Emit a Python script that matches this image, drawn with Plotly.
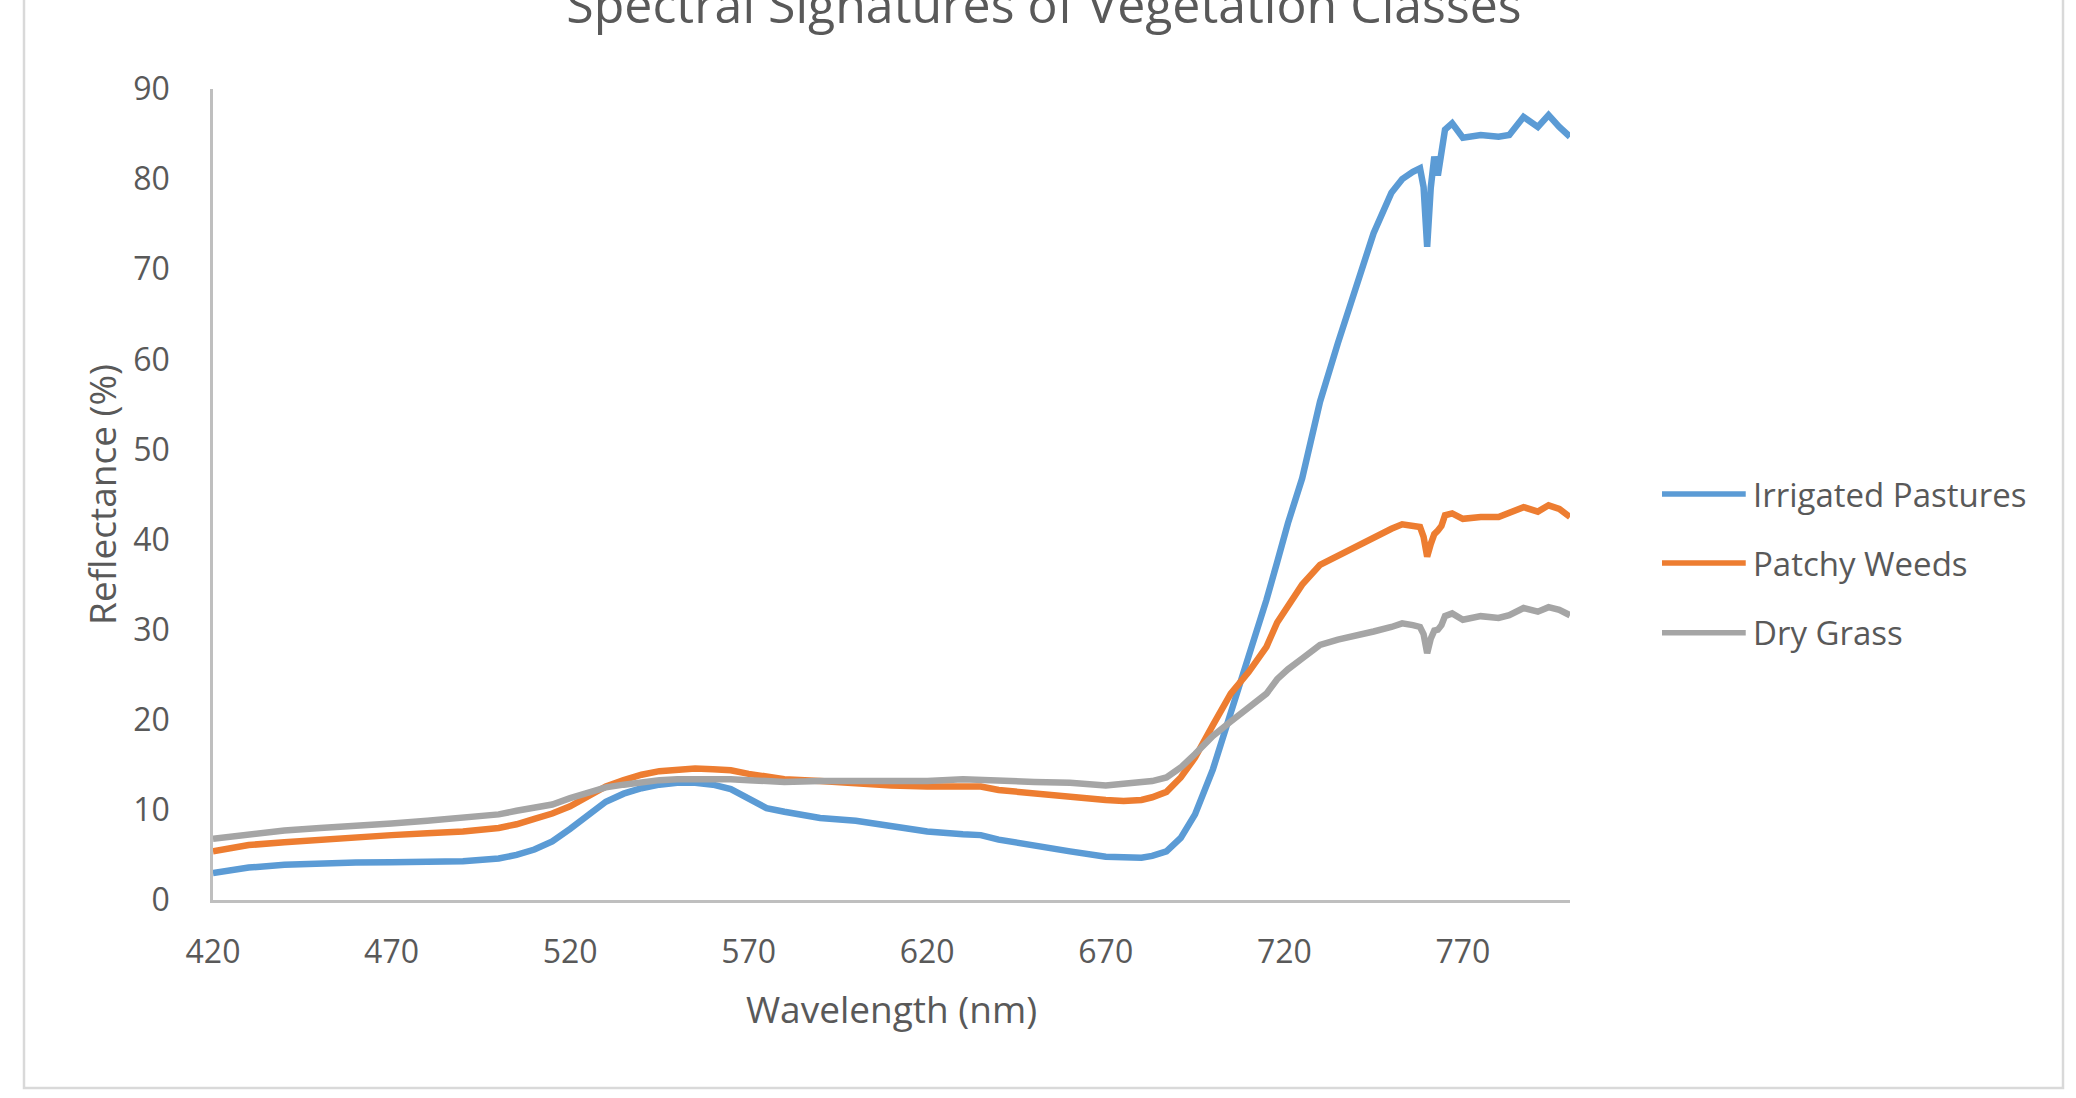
import plotly.graph_objects as go

# ---- data ----
wavelength = [420, 430, 440, 450, 460, 470, 480, 490, 500, 505, 510, 515, 520, 525, 530, 535,
              540, 545, 550, 555, 560, 565, 570, 575, 580, 590, 600, 610, 620, 630, 635, 640,
              650, 660, 670, 675, 680, 683, 687, 691, 695, 700, 705, 710, 715, 718, 721, 725,
              730, 735, 740, 745, 750, 753, 756, 758, 759, 760, 761, 762, 763, 764, 765, 767,
              770, 775, 780, 783, 787, 791, 794, 797, 800]

irrigated_pastures = [3.0, 3.6, 3.9, 4.1, 4.15, 4.2, 4.25, 4.3, 4.6, 5.0, 5.6, 6.5, 7.9, 9.5, 10.9, 11.8,
                      12.4, 12.8, 13.0, 13.0, 12.8, 12.3, 11.2, 10.2, 9.8, 9.1, 8.8, 8.2, 7.6, 7.3, 7.2, 6.7,
                      6.0, 5.4, 4.8, 4.7, 4.7, 4.9, 5.4, 6.9, 9.5, 14.5, 20.7, 27.0, 33.3, 37.5, 41.8, 46.8,
                      55.3, 61.8, 67.8, 74.0, 78.5, 80.0, 80.8, 81.2, 79.1, 72.5, 79.0, 82.5, 80.4, 83.5, 85.5, 86.2,
                      84.6, 84.9, 84.7, 84.9, 86.9, 85.8, 87.1, 85.8, 84.7]

patchy_weeds = [5.4, 6.1, 6.4, 6.7, 7.0, 7.2, 7.4, 7.6, 8.0, 8.4, 9.0, 9.6, 10.4, 11.4, 12.6, 13.3,
                13.9, 14.3, 14.5, 14.6, 14.5, 14.4, 14.0, 13.7, 13.4, 13.2, 12.9, 12.7, 12.6, 12.65, 12.6, 12.2,
                11.8, 11.4, 11.1, 11.0, 11.1, 11.4, 12.0, 13.6, 15.8, 19.4, 22.9, 25.3, 28.1, 30.8, 32.6, 35.0,
                37.2, 38.2, 39.2, 40.4, 41.2, 41.7, 41.5, 41.4, 40.3, 38.1, 39.5, 40.6, 41.0, 41.5, 42.7, 42.9,
                42.3, 42.5, 42.5, 42.9, 43.6, 43.1, 43.8, 43.4, 42.5]

dry_grass = [6.8, 7.3, 7.7, 8.0, 8.2, 8.5, 8.8, 9.1, 9.5, 9.9, 10.3, 10.6, 11.3, 11.9, 12.5, 12.8,
             13.1, 13.3, 13.4, 13.45, 13.5, 13.4, 13.3, 13.2, 13.1, 13.2, 13.2, 13.1, 13.2, 13.4, 13.3, 13.2,
             13.1, 13.0, 12.7, 12.9, 13.1, 13.2, 13.6, 14.7, 16.2, 18.2, 19.8, 21.3, 22.9, 24.5, 25.6, 26.8,
             28.3, 28.9, 29.3, 29.8, 30.3, 30.7, 30.5, 30.3, 29.5, 27.4, 29.0, 29.9, 30.0, 30.5, 31.5, 31.8,
             31.1, 31.5, 31.3, 31.6, 32.4, 32.0, 32.5, 32.2, 31.6]

series_names = ["Irrigated Pastures", "Patchy Weeds", "Dry Grass"]
series_values = [irrigated_pastures, patchy_weeds, dry_grass]
series_colors = ["#5B9BD5", "#ED7D31", "#A5A5A5"]

x_tick_values = [420, 470, 520, 570, 620, 670, 720, 770]
y_tick_values = [0, 10, 20, 30, 40, 50, 60, 70, 80, 90]

FONT = "Open Sans, Noto Sans, sans-serif"
TXT = "#595959"

fig = go.Figure()
for name, vals, col in zip(series_names, series_values, series_colors):
    fig.add_trace(go.Scatter(x=wavelength, y=vals, mode="lines", name=name,
                             line=dict(color=col, width=6.5), showlegend=False))

# manual legend (long line samples like the reference)
legend_y = [0.5005, 0.4155, 0.3295]
for name, col, ly in zip(series_names, series_colors, legend_y):
    fig.add_shape(type="line", xref="paper", yref="paper", x0=1.0678, x1=1.1295, y0=ly, y1=ly,
                  line=dict(color=col, width=5.5))
    fig.add_annotation(xref="paper", yref="paper", x=1.1335, y=ly, xanchor="left", yanchor="middle",
                       text=name, showarrow=False, font=dict(family=FONT, size=33, color=TXT))

# outer chart border
L, R, T, B = 213, 1570, 89, 900
pw, ph = R - L, B - T
fig.add_shape(type="rect", xref="paper", yref="paper",
              x0=(24 - L) / pw, x1=(2063 - L) / pw, y0=(B - 1088) / ph, y1=(B + 30) / ph,
              line=dict(color="#D9D9D9", width=2.5), fillcolor="rgba(0,0,0,0)", layer="below")

fig.update_layout(
    width=2076, height=1098,
    margin=dict(l=L, r=2076 - R, t=T, b=1098 - B, autoexpand=False),
    paper_bgcolor="white", plot_bgcolor="white",
    font=dict(family=FONT, color=TXT),
    title=dict(text="Spectral Signatures of Vegetation Classes", x=(563 + 1525) / 2 / 2076, xanchor="center",
               yref="container", y=1 - 5 / 1098, yanchor="middle",
               font=dict(family=FONT, size=50, color=TXT)),
    xaxis=dict(range=[420, 800], tickvals=x_tick_values, showgrid=False, zeroline=False,
               showline=True, linecolor="#BFBFBF", linewidth=2.5,
               ticks="outside", ticklen=22, tickcolor="rgba(0,0,0,0)",
               tickfont=dict(family=FONT, size=32, color=TXT),
               title=dict(text="Wavelength (nm)", font=dict(family=FONT, size=37, color=TXT), standoff=26),
               automargin=False),
    yaxis=dict(range=[0, 90], tickvals=y_tick_values, showgrid=False, zeroline=False,
               showline=True, linecolor="#BFBFBF", linewidth=2.5,
               ticks="outside", ticklen=34, tickcolor="rgba(0,0,0,0)",
               tickfont=dict(family=FONT, size=32, color=TXT),
               title=dict(text="Reflectance (%)", font=dict(family=FONT, size=37, color=TXT), standoff=6),
               automargin=False),
)

fig.write_html("out.html")
